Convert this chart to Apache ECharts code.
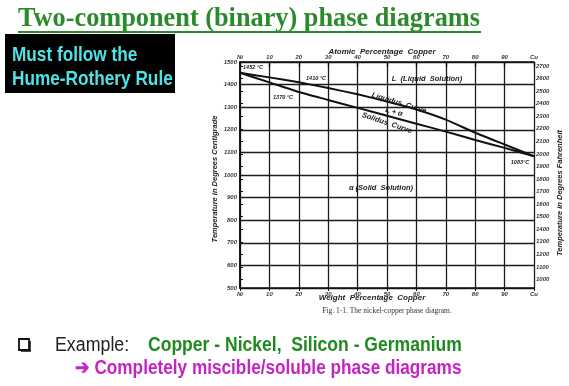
<!DOCTYPE html>
<html><head><meta charset="utf-8">
<script src="https://cdn.jsdelivr.net/npm/echarts@6/dist/echarts.min.js"></script>
<style>html,body{margin:0;padding:0;background:#fff}#c{width:569px;height:386px}</style>
</head><body><div id="c"></div>
<script>
// ---- data ----
const weightPct = [0,10,20,30,40,50,60,70,80,90,100];
const liquidusC = [1452,1432,1410,1385,1357,1325,1290,1245,1187,1135,1083];
const solidusC  = [1452,1410,1367,1332,1297,1262,1227,1192,1155,1120,1083];
const xTickLabels = ['Ni','10','20','30','40','50','60','70','80','90','Cu'];
const celsiusRange = [500, 1500];
const fahrenheitTicks = [1000,1100,1200,1300,1400,1500,1600,1700,1800,1900,2000,2100,2200,2300,2400,2500,2600,2700];

const c2f = c => c * 9 / 5 + 32;
const chart = echarts.init(document.getElementById('c'), null, {renderer:'canvas'});
const tinyLab = {fontSize:6, fontStyle:'italic', fontWeight:'bold', color:'#333', fontFamily:'Liberation Sans'};
const gridLine = {show:true, lineStyle:{color:'#1c1c1c', width:1.3}};
const axisLn = {show:true, lineStyle:{color:'#111', width:1.6}};
const xFmt = v => { const i = weightPct.indexOf(v); return i >= 0 ? xTickLabels[i] : ''; };
const numFmt = v => String(Math.round(v));

const txt = (x, y, s, style, extra) => Object.assign({type:'text', x, y, style:Object.assign({text:s}, style)}, extra || {});
const plotTxt = {fontFamily:'Liberation Sans', fontStyle:'italic', fontWeight:'bold', fill:'#222', fontSize:7, align:'center', verticalAlign:'middle'};

chart.setOption({
  backgroundColor:'#fff',
  animation:false,
  grid:{left:240, right:35, top:62, bottom:98},
  xAxis:[
    {type:'value', position:'bottom', min:0, max:100, interval:10,
     axisLine:axisLn, splitLine:gridLine, minorTick:{show:false},
     axisTick:{show:true, length:3, lineStyle:{color:'#111'}},
     axisLabel:Object.assign({formatter:xFmt, margin:3}, tinyLab)},
    {type:'value', position:'top', min:0, max:100, interval:10,
     axisLine:axisLn, splitLine:{show:false}, minorTick:{show:false},
     axisTick:{show:true, inside:true, length:5, lineStyle:{color:'#111', width:1.3}},
     axisLabel:Object.assign({formatter:xFmt, margin:2}, tinyLab)}
  ],
  yAxis:[
    {type:'value', position:'left', min:celsiusRange[0], max:celsiusRange[1], interval:100,
     axisLine:axisLn, splitLine:gridLine, axisTick:{show:false}, minorTick:{show:false},
     axisLabel:Object.assign({margin:3, formatter:numFmt}, tinyLab)},
    {type:'value', position:'right', min:c2f(celsiusRange[0]), max:c2f(celsiusRange[1]),
     axisLine:axisLn, splitLine:{show:false}, minorTick:{show:false},
     axisTick:{show:true, length:3, customValues:fahrenheitTicks, lineStyle:{color:'#111'}},
     axisLabel:Object.assign({margin:2, customValues:fahrenheitTicks, formatter:numFmt}, tinyLab)}
  ],
  series:[
    {type:'line', name:'Liquidus', xAxisIndex:0, yAxisIndex:0, smooth:0.15, symbol:'none',
     lineStyle:{color:'#111', width:2}, data:weightPct.map((w,i)=>[w, liquidusC[i]])},
    {type:'line', name:'Solidus', xAxisIndex:0, yAxisIndex:0, smooth:0.15, symbol:'none',
     lineStyle:{color:'#111', width:2}, data:weightPct.map((w,i)=>[w, solidusC[i]])}
  ],
  graphic:[
    // slide title
    txt(18, 19, 'Two-component (binary) phase diagrams',
      {font:'bold 26.3px "Liberation Serif"', fill:'#2b8a2b', verticalAlign:'middle'}),
    {type:'line', shape:{x1:18, y1:32, x2:481, y2:32}, style:{stroke:'#2b8a2b', lineWidth:2}},
    // black box
    {type:'rect', shape:{x:5, y:34, width:170, height:59}, style:{fill:'#000'}},
    txt(12, 55, 'Must follow the', {font:'bold 21px "Liberation Sans"', fill:'#4fe3e6', verticalAlign:'middle'}, {scaleX:0.82}),
    txt(12, 79, 'Hume-Rothery Rule', {font:'bold 21px "Liberation Sans"', fill:'#4fe3e6', verticalAlign:'middle'}, {scaleX:0.82}),
    // axis titles
    txt(382, 52, 'Atomic  Percentage  Copper', Object.assign({}, plotTxt, {fontSize:8})),
    txt(372, 298, 'Weight  Percentage  Copper', Object.assign({}, plotTxt, {fontSize:8})),
    txt(387, 311, 'Fig. 1-1. The nickel-copper phase diagram.',
      {font:'7.5px "Liberation Serif"', fill:'#333', align:'center', verticalAlign:'middle'}),
    txt(215, 179, 'Temperature in Degrees Centigrade', Object.assign({}, plotTxt, {fontSize:7.5}), {rotation:Math.PI/2}),
    txt(560, 193, 'Temperature in Degrees Fahrenheit', Object.assign({}, plotTxt, {fontSize:7.5}), {rotation:Math.PI/2}),
    // annotations
    txt(253, 67, '1452 °C', Object.assign({}, plotTxt, {fontSize:5.5})),
    txt(316, 78, '1410 °C', Object.assign({}, plotTxt, {fontSize:5.5})),
    txt(283, 97, '1370 °C', Object.assign({}, plotTxt, {fontSize:5.5})),
    txt(520, 162, '1083°C', Object.assign({}, plotTxt, {fontSize:5.5})),
    txt(427, 79, 'L  (Liquid  Solution)', Object.assign({}, plotTxt, {fontSize:7.5})),
    txt(399, 103, 'Liquidus  Curve', Object.assign({}, plotTxt, {fontSize:7.5}), {rotation:-0.29}),
    txt(394, 112, 'L + α', Object.assign({}, plotTxt, {fontSize:7.5}), {rotation:-0.25}),
    txt(387, 123, 'Solidus  Curve', Object.assign({}, plotTxt, {fontSize:7.5}), {rotation:-0.32}),
    txt(381, 188, 'α (Solid  Solution)', Object.assign({}, plotTxt, {fontSize:7.5})),
    // bottom text
    {type:'rect', shape:{x:19, y:339, width:10, height:11}, style:{fill:'#fff', stroke:'#111', lineWidth:1.8}},
    {type:'line', shape:{x1:21, y1:351, x2:31, y2:351}, style:{stroke:'#111', lineWidth:1.5}},
    {type:'line', shape:{x1:30, y1:341, x2:30, y2:351}, style:{stroke:'#111', lineWidth:1.5}},
    txt(55, 345, 'Example:', {font:'20px "Liberation Sans"', fill:'#222', verticalAlign:'middle'}, {scaleX:0.89}),
    txt(148, 345, 'Copper - Nickel,  Silicon - Germanium', {font:'bold 20px "Liberation Sans"', fill:'#1f8a1f', verticalAlign:'middle'}, {scaleX:0.877}),
    txt(75, 368, '➔ Completely miscible/soluble phase diagrams', {font:'bold 20px "Liberation Sans"', fill:'#c424c4', verticalAlign:'middle'}, {scaleX:0.86})
  ]
});
</script></body></html>
